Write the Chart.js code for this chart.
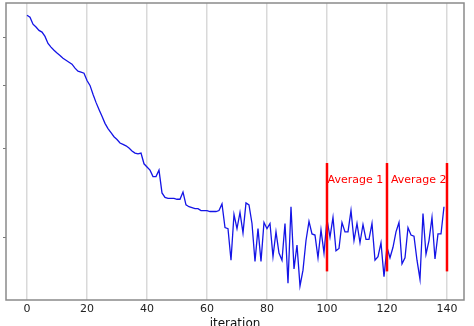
<!DOCTYPE html>
<html>
<head>
<meta charset="utf-8">
<script src="https://cdn.jsdelivr.net/npm/chart.js@4/dist/chart.umd.min.js"></script>
<style>
  html, body { margin: 0; padding: 0; background: #fff; }
  #wrap { width: 474px; height: 326px; }
</style>
</head>
<body>
<div id="wrap"><canvas id="c" width="474" height="326"></canvas></div>
<script>
// Loss value per iteration (log-scaled y axis)
const lossValues = [
  5.53, 5.48, 5.31, 5.24, 5.16, 5.12, 5.02, 4.86, 4.78, 4.71,
  4.65, 4.60, 4.54, 4.50, 4.46, 4.42, 4.34, 4.28, 4.26, 4.24,
  4.10, 4.01, 3.85, 3.71, 3.59, 3.48, 3.37, 3.29, 3.23, 3.17,
  3.13, 3.08, 3.06, 3.04, 3.01, 2.97, 2.94, 2.93, 2.94, 2.80,
  2.76, 2.72, 2.64, 2.64, 2.72, 2.45, 2.40, 2.39, 2.39, 2.39,
  2.38, 2.38, 2.46, 2.32, 2.30, 2.29, 2.28, 2.28, 2.26, 2.26,
  2.26, 2.25, 2.25, 2.25, 2.26, 2.33, 2.09, 2.08, 1.80, 2.22,
  2.08, 2.24, 2.04, 2.34, 2.32, 2.13, 1.79, 2.08, 1.79, 2.14,
  2.08, 2.13, 1.83, 2.05, 1.86, 1.80, 2.13, 1.62, 2.30, 1.73,
  1.93, 1.60, 1.72, 1.97, 2.15, 2.03, 2.02, 1.82, 2.07, 1.86,
  2.17, 2.00, 2.19, 1.88, 1.90, 2.14, 2.05, 2.05, 2.26, 1.97,
  2.13, 1.95, 2.12, 1.98, 1.98, 2.13, 1.80, 1.83, 1.95, 1.67,
  1.91, 1.82, 1.91, 2.05, 2.14, 1.77, 1.82, 2.09, 2.02, 2.01,
  1.80, 1.65, 2.23, 1.85, 1.97, 2.19, 1.81, 2.03, 2.03, 2.30
];
const iterations = lossValues.map((_, i) => i);

// Averaging window markers
const markerIterations = [100, 120, 140];
const markerRange = [1.71, 2.81];
const windowLabels = ['Average 1', 'Average 2'];
const windowLabelAt = [100.2, 121.3];
const windowLabelValue = 2.62;

// Axis ticks
const xTicks = [0, 20, 40, 60, 80, 100, 120, 140];
const yTicks = [2, 3, 4, 5];

const FONT = 'DejaVu Sans';

const markerSets = markerIterations.map(x => ({
  data: markerRange.map(y => ({ x, y })),
  borderColor: '#ff0000',
  borderWidth: 2.5,
  pointRadius: 0,
  showLine: true,
  order: 0
}));

const frameAndLabels = {
  id: 'frameAndLabels',
  afterDatasetsDraw(chart) {
    const { ctx, chartArea: a, scales } = chart;
    ctx.save();
    ctx.fillStyle = '#ff0000';
    ctx.font = '11px "' + FONT + '"';
    ctx.textBaseline = 'alphabetic';
    ctx.textAlign = 'left';
    windowLabels.forEach((t, i) => {
      ctx.fillText(t, scales.x.getPixelForValue(windowLabelAt[i]),
                   scales.y.getPixelForValue(windowLabelValue) + 5);
    });
    ctx.strokeStyle = '#8a8a8a';
    ctx.lineWidth = 1.5;
    ctx.strokeRect(a.left, a.top, a.right - a.left, a.bottom - a.top);
    ctx.restore();
  }
};

new Chart(document.getElementById('c'), {
  type: 'scatter',
  data: {
    datasets: [
      {
        data: iterations.map((x, i) => ({ x, y: lossValues[i] })),
        borderColor: '#1414e6',
        borderWidth: 1.3,
        pointRadius: 0,
        showLine: true,
        tension: 0,
        order: 1
      },
      ...markerSets
    ]
  },
  options: {
    responsive: false,
    animation: false,
    events: [],
    layout: { padding: { top: 3, right: 10, left: 0, bottom: 0 } },
    plugins: { legend: { display: false }, tooltip: { enabled: false } },
    scales: {
      x: {
        type: 'linear',
        min: -7,
        max: 145.67,
        afterBuildTicks: s => { s.ticks = xTicks.map(v => ({ value: v })); },
        afterFit: s => { s.height = 26; },
        grid: { color: '#d9d9d9', lineWidth: 1.5, drawTicks: false },
        border: { display: false },
        ticks: {
          padding: 3,
          color: '#222',
          font: { family: FONT, size: 11 },
          maxRotation: 0,
          callback: v => String(v)
        },
        title: {
          display: true,
          text: 'iteration',
          color: '#111',
          font: { family: FONT, size: 12 },
          padding: { top: 0, bottom: -5 }
        }
      },
      y: {
        type: 'logarithmic',
        min: 1.5,
        max: 5.85,
        afterBuildTicks: s => { s.ticks = yTicks.map(v => ({ value: v })); },
        afterFit: s => { s.width = 6; },
        grid: { drawOnChartArea: false, drawTicks: true, tickLength: 3, tickColor: '#777', lineWidth: 1 },
        border: { display: false },
        ticks: { display: true, callback: () => '', padding: 0, font: { size: 1 } }
      }
    }
  },
  plugins: [frameAndLabels]
});
</script>
</body>
</html>
